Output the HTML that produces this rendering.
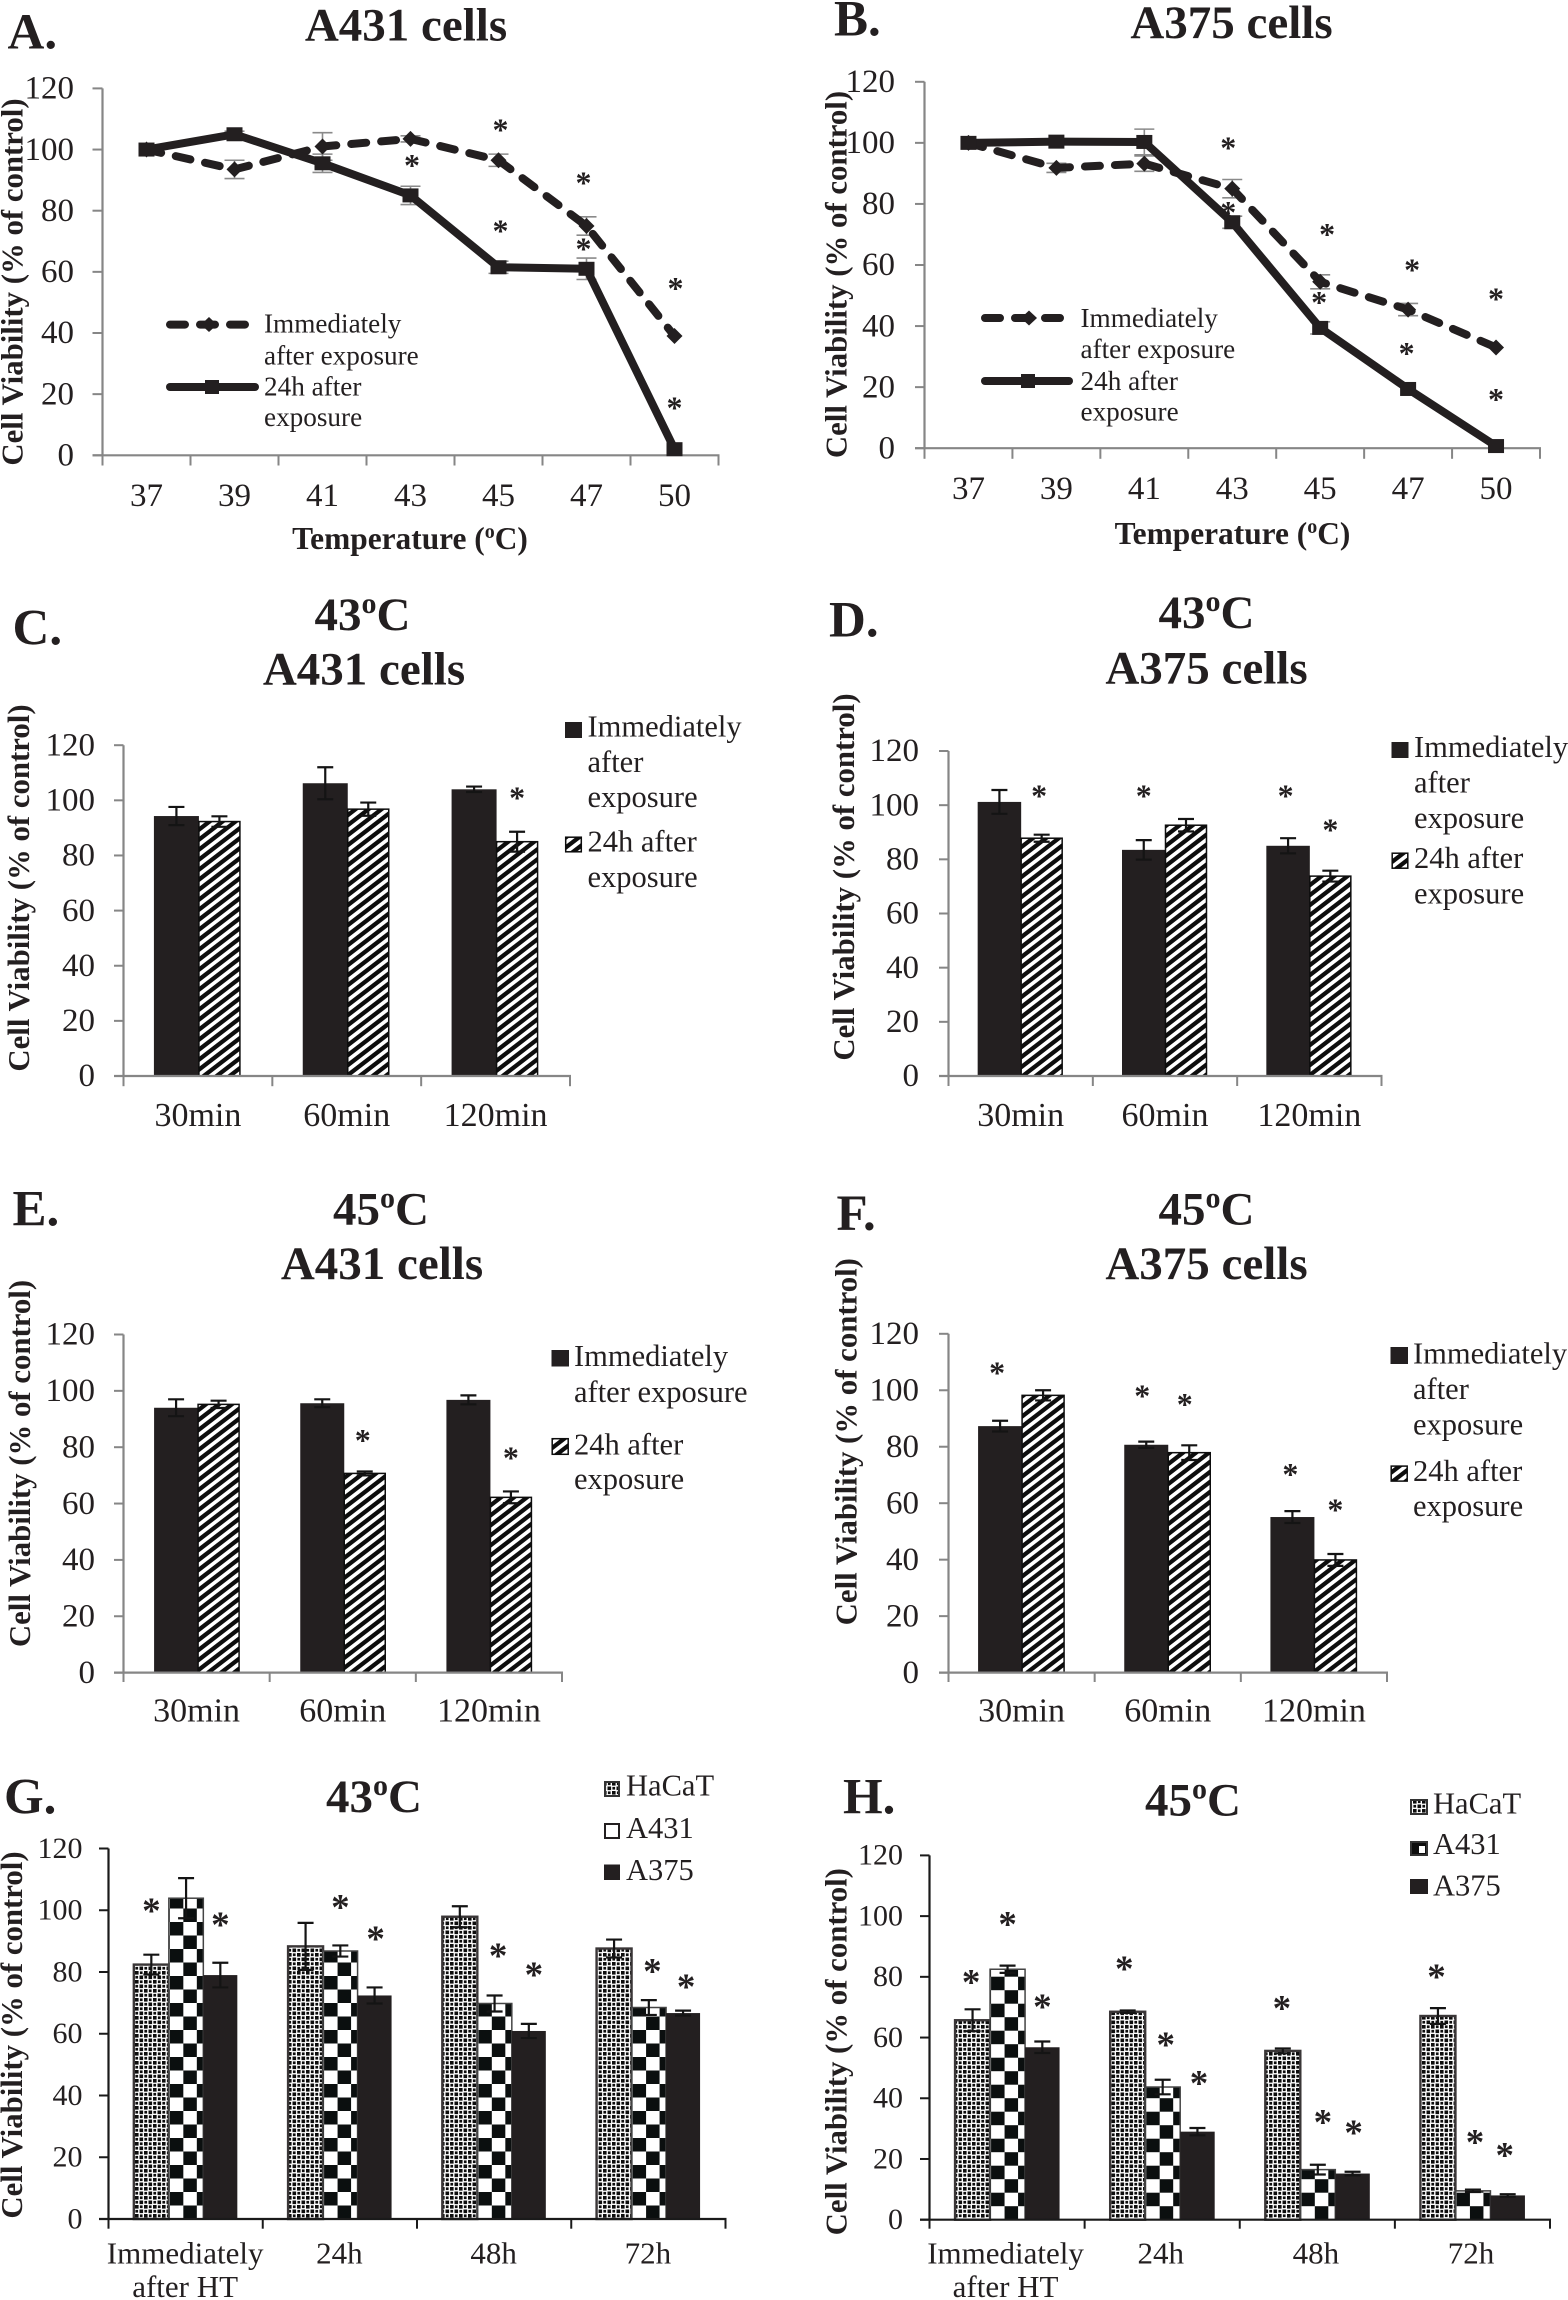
<!DOCTYPE html>
<html lang="en">
<head>
<meta charset="utf-8">
<title>Cell viability after hyperthermia</title>
<style>
html,body{margin:0;padding:0;background:#fff;}
svg{display:block;}
text{font-family:"Liberation Serif",serif;fill:#231f20;}
.title{font-size:47px;font-weight:bold;text-anchor:middle;}
.letter{font-size:51px;font-weight:bold;}
.lg{font-size:30.5px;}
.lg-small{font-size:27.2px;}
.xt{font-size:31.4px;font-weight:bold;text-anchor:middle;}
</style>
</head>
<body>
<svg id="figure" xmlns="http://www.w3.org/2000/svg" width="1568" height="2300" viewBox="0 0 1568 2300">
<defs>
  <pattern id="stripes" patternUnits="userSpaceOnUse" width="13" height="10">
    <rect width="13" height="10" fill="#fff"/>
    <polygon points="0,10 7,10 13,5.4 13,0" fill="#0d0d0d"/>
    <polygon points="0,0 0,5.4 7,0" fill="#0d0d0d"/>
  </pattern>
  <pattern id="dots" patternUnits="userSpaceOnUse" width="9" height="9">
    <rect width="9" height="9" fill="#fff"/>
    <rect x="0" y="0" width="3.6" height="3.6" fill="#0d0d0d"/>
    <rect x="4.5" y="4.5" width="3.6" height="3.6" fill="#0d0d0d"/>
    <rect x="4.9" y="0.4" width="2.7" height="2.7" fill="#0d0d0d"/>
    <rect x="0.4" y="4.9" width="2.7" height="2.7" fill="#0d0d0d"/>
  </pattern>
</defs>
<rect width="1568" height="2300" fill="#fff"/>

<!-- Panel headings -->
<text class="letter" x="7.5" y="48.4">A.</text>
<text class="title" x="406" y="40.7">A431 cells</text>
<text class="letter" x="834" y="35.6">B.</text>
<text class="title" x="1231.5" y="38.2">A375 cells</text>

<text class="letter" x="12.5" y="644.5">C.</text>
<text class="title" x="362.5" y="630">43<tspan font-size="30" dy="-17">o</tspan><tspan dy="17">C</tspan></text>
<text class="title" x="364" y="684.5">A431 cells</text>
<text class="letter" x="829" y="636.5">D.</text>
<text class="title" x="1206.5" y="628">43<tspan font-size="30" dy="-17">o</tspan><tspan dy="17">C</tspan></text>
<text class="title" x="1206.5" y="683.5">A375 cells</text>

<text class="letter" x="12.5" y="1225.4">E.</text>
<text class="title" x="381" y="1224.7">45<tspan font-size="30" dy="-17">o</tspan><tspan dy="17">C</tspan></text>
<text class="title" x="382" y="1279">A431 cells</text>
<text class="letter" x="836.5" y="1230">F.</text>
<text class="title" x="1206.5" y="1224.7">45<tspan font-size="30" dy="-17">o</tspan><tspan dy="17">C</tspan></text>
<text class="title" x="1206.5" y="1279">A375 cells</text>

<text class="letter" x="4" y="1813.6">G.</text>
<text class="title" x="374" y="1812">43<tspan font-size="30" dy="-17">o</tspan><tspan dy="17">C</tspan></text>
<text class="letter" x="843" y="1813.6">H.</text>
<text class="title" x="1193" y="1815.4">45<tspan font-size="30" dy="-17">o</tspan><tspan dy="17">C</tspan></text>

<!-- X axis titles for the line charts -->
<text class="xt" x="410" y="549">Temperature (<tspan font-size="20" dy="-11">o</tspan><tspan dy="11">C)</tspan></text>
<text class="xt" x="1232.5" y="544">Temperature (<tspan font-size="20" dy="-11">o</tspan><tspan dy="11">C)</tspan></text>

<g id="plots"></g>

<!-- Legends -->
<g>
  <g>
    <line x1="170" x2="249" y1="324.6" y2="324.6" stroke="#231f20" stroke-width="8" stroke-linecap="round" stroke-dasharray="15 15"/>
    <polygon points="209,317 217,324.6 209,332 201,324.6" fill="#231f20"/>
    <text class="lg-small" x="264" y="332.6">Immediately</text>
    <text class="lg-small" x="264" y="364.6">after exposure</text>
  </g>
  <g>
    <line x1="170" x2="255" y1="387" y2="387" stroke="#231f20" stroke-width="8" stroke-linecap="round"/>
    <rect x="205" y="380" width="14" height="14" fill="#231f20"/>
    <text class="lg-small" x="264" y="395.5">24h after</text>
    <text class="lg-small" x="264" y="426">exposure</text>
  </g>
</g>
<g>
  <g>
    <line x1="985" x2="1062" y1="318" y2="318" stroke="#231f20" stroke-width="8" stroke-linecap="round" stroke-dasharray="15 15"/>
    <polygon points="1029,310.5 1037,318 1029,325.5 1021,318" fill="#231f20"/>
    <text class="lg-small" x="1080.5" y="327">Immediately</text>
    <text class="lg-small" x="1080.5" y="358">after exposure</text>
  </g>
  <g>
    <line x1="985" x2="1069" y1="381" y2="381" stroke="#231f20" stroke-width="8" stroke-linecap="round"/>
    <rect x="1021" y="374" width="14" height="14" fill="#231f20"/>
    <text class="lg-small" x="1080.5" y="390">24h after</text>
    <text class="lg-small" x="1080.5" y="420.6">exposure</text>
  </g>
</g>
<g>
  <g>
    <rect x="565" y="722" width="17" height="16" fill="#231f20"/>
    <text class="lg" x="587.5" y="736.5">Immediately</text>
    <text class="lg" x="587.5" y="772">after</text>
    <text class="lg" x="587.5" y="807">exposure</text>
  </g>
  <g>
    <rect x="565.7" y="837.2" width="15.6" height="14.6" fill="url(#stripes)" stroke="#0d0d0d" stroke-width="1.5"/>
    <text class="lg" x="587.5" y="851.7">24h after</text>
    <text class="lg" x="587.5" y="887">exposure</text>
  </g>
</g>
<g>
  <g>
    <rect x="1391.5" y="742" width="17" height="16" fill="#231f20"/>
    <text class="lg" x="1414" y="757">Immediately</text>
    <text class="lg" x="1414" y="792.5">after</text>
    <text class="lg" x="1414" y="828">exposure</text>
  </g>
  <g>
    <rect x="1392.2" y="853.2" width="15.6" height="15" fill="url(#stripes)" stroke="#0d0d0d" stroke-width="1.5"/>
    <text class="lg" x="1414" y="868">24h after</text>
    <text class="lg" x="1414" y="903.5">exposure</text>
  </g>
</g>
<g>
  <g>
    <rect x="551.5" y="1350" width="17.5" height="16.5" fill="#231f20"/>
    <text class="lg" x="574" y="1366">Immediately</text>
    <text class="lg" x="574" y="1402">after exposure</text>
  </g>
  <g>
    <rect x="552.2" y="1438.7" width="16" height="15.6" fill="url(#stripes)" stroke="#0d0d0d" stroke-width="1.5"/>
    <text class="lg" x="574" y="1454.5">24h after</text>
    <text class="lg" x="574" y="1489">exposure</text>
  </g>
</g>
<g>
  <g>
    <rect x="1390.5" y="1347" width="17.5" height="17" fill="#231f20"/>
    <text class="lg" x="1413" y="1363.6">Immediately</text>
    <text class="lg" x="1413" y="1399">after</text>
    <text class="lg" x="1413" y="1434.5">exposure</text>
  </g>
  <g>
    <rect x="1391.2" y="1466.1" width="16" height="15" fill="url(#stripes)" stroke="#0d0d0d" stroke-width="1.5"/>
    <text class="lg" x="1413" y="1481">24h after</text>
    <text class="lg" x="1413" y="1516">exposure</text>
  </g>
</g>
<g>
  <g>
    <rect x="605" y="1782" width="14" height="14" fill="url(#dots)" stroke="#333" stroke-width="2"/>
    <text class="lg" x="626" y="1795.4">HaCaT</text>
  </g>
  <g>
    <rect x="605" y="1824" width="14" height="14" fill="#fff" stroke="#231f20" stroke-width="2"/>
    <text class="lg" x="626" y="1838">A431</text>
  </g>
  <g>
    <rect x="604" y="1864.5" width="16" height="15.5" fill="#231f20"/>
    <text class="lg" x="626" y="1880">A375</text>
  </g>
</g>
<g>
  <g>
    <rect x="1411" y="1800" width="16" height="14" fill="url(#dots)" stroke="#333" stroke-width="2"/>
    <text class="lg" x="1433" y="1813.6">HaCaT</text>
  </g>
  <g>
    <rect x="1411" y="1842" width="16" height="13" fill="#0d0d0d" stroke="#333" stroke-width="2"/>
    <rect x="1419" y="1846" width="6" height="7" fill="#fff"/>
    <text class="lg" x="1433" y="1854">A431</text>
  </g>
  <g>
    <rect x="1410" y="1879" width="18" height="15" fill="#231f20"/>
    <text class="lg" x="1433" y="1895.4">A375</text>
  </g>
</g>
</svg>

<script>
// ---- Shared axis labels ----
const yTickLabels = [0, 20, 40, 60, 80, 100, 120];
const temperatureCategories = ["37", "39", "41", "43", "45", "47", "50"];
const durationCategories = ["30min", "60min", "120min"];
const timeCategories = ["Immediately\nafter HT", "24h", "48h", "72h"];

// ---- Panel A ----
const aImmediate = [100, 93.5, 101, 103.5, 96.5, 75, 39];
const aImmediateErr = [0, 3, 4.5, 1, 2, 3, 0];
const a24h = [100, 105, 95.5, 85, 61.5, 61, 2];
const a24hErr = [0, 1, 3, 3, 2, 3.5, 0];
const aStarCats = [4, 3, 5, 4, 5, 6, 6];
const aStarValues = [107.9, 96.2, 90.6, 74.9, 69, 56, 16.9];

// ---- Panel B ----
const bImmediate = [100, 91.8, 93.2, 85, 54.5, 45.4, 33];
const bImmediateErr = [0, 1.5, 2.5, 3, 2.3, 2, 0];
const b24h = [100, 100.4, 100.3, 74, 39.4, 19.4, 0.7];
const b24hErr = [0, 0, 4.2, 2, 2, 0, 0];
const bStarCats = [3, 3, 4, 4, 5, 5, 6, 6];
const bStarValues = [99.8, 78.7, 71.5, 49.2, 59.9, 32.5, 50.4, 17.4];

// ---- Panel C ----
const cImmediate = [94.3, 106.2, 104];
const cImmediateErr = [3.3, 5.8, 1];
const c24h = [92.3, 96.8, 85];
const c24hErr = [1.9, 2.4, 3.6];
const cStarCats = [2];
const cStarSeries = [1];
const cStarValues = [102.5];

// ---- Panel D ----
const dImmediate = [101.2, 83.5, 85];
const dImmediateErr = [4.4, 3.6, 2.8];
const d24h = [87.8, 92.6, 73.8];
const d24hErr = [1.3, 2.3, 2];
const dStarCats = [0, 1, 2, 2];
const dStarSeries = [1, 0, 0, 1];
const dStarValues = [105, 105, 105, 92.5];

// ---- Panel E ----
const eImmediate = [94, 95.6, 96.8];
const eImmediateErr = [3, 1.4, 1.6];
const e24h = [95.2, 70.7, 62.2];
const e24hErr = [1.3, 0.7, 2.1];
const eStarCats = [1, 2];
const eStarSeries = [1, 1];
const eStarValues = [84, 77.7];

// ---- Panel F ----
const fImmediate = [87.3, 80.7, 55.1];
const fImmediateErr = [1.9, 1.1, 2.1];
const f24h = [98.2, 77.9, 39.9];
const f24hErr = [1.8, 2.6, 2.1];
const fStarCats = [0, 1, 1, 2, 2];
const fStarSeries = [0, 0, 1, 0, 1];
const fStarValues = [107.8, 99.5, 96.6, 71.7, 59.2];

// ---- Panel G ----
const gHacat = [82.4, 88.3, 97.9, 87.6];
const gHacatErr = [3.2, 7.6, 3.4, 2.9];
const gA431 = [103.9, 86.8, 69.8, 68.5];
const gA431Err = [6.5, 1.8, 2.6, 2.4];
const gA375 = [79, 72.4, 60.9, 66.7];
const gA375Err = [4, 2.6, 2.3, 0.8];
const gStarCats = [0, 0, 1, 1, 2, 2, 3, 3];
const gStarSeries = [0, 2, 1, 2, 1, 2, 1, 2];
const gStarValues = [101.5, 96.9, 102.7, 92.5, 86.9, 80.7, 81.9, 76.9];

// ---- Panel H ----
const hHacat = [65.7, 68.5, 55.6, 67.1];
const hHacatErr = [3.6, 0.4, 0.8, 2.6];
const hA431 = [82.5, 43.7, 16.5, 9.5];
const hA431Err = [1.2, 2.4, 1.6, 0.4];
const hA375 = [56.8, 29, 15.2, 8];
const hA375Err = [1.9, 1.2, 0.6, 0.4];
const hStarCats = [0, 0, 0, 1, 1, 1, 2, 2, 2, 3, 3, 3];
const hStarSeries = [0, 1, 2, 0, 1, 2, 0, 1, 2, 0, 1, 2];
const hStarValues = [79.9, 99, 71.9, 84.4, 59.3, 46.7, 71.3, 33.8, 30.4, 81.7, 27.2, 23];

const NS = "http://www.w3.org/2000/svg";
const plots = document.getElementById("plots");
const defsEl = document.querySelector("#figure defs");
const GRAY_AXIS = "#868686";
const INK = "#231f20";
let checkerCount = 0;

function make(parent, tag, attrs, text) {
  const el = document.createElementNS(NS, tag);
  for (const k in attrs) el.setAttribute(k, attrs[k]);
  if (text !== undefined) el.textContent = text;
  parent.appendChild(el);
  return el;
}

function scales(p, n) {
  return {
    x: function (i) { return p.x0 + (p.x1 - p.x0) * (i + 0.5) / n; },
    y: function (v) { return p.yZero - (p.yZero - p.yTop) * v / 120; }
  };
}

function drawAxes(g, p, categories) {
  const s = scales(p, categories.length);
  const col = p.axisColor;
  const yAxis = make(g, "line", {x1: p.x0, x2: p.x0, y1: p.yTop, y2: p.yZero, stroke: col, "stroke-width": 2.2});
  
  
  const xAxis = make(g, "line", {x1: p.tickLeft, x2: p.x1 + 1, y1: p.yZero, y2: p.yZero, stroke: col, "stroke-width": 2.2});
  
  
  yTickLabels.forEach(function (v) {
    const y = s.y(v);
    const tick = make(g, "line", {x1: p.tickLeft, x2: p.x0, y1: y, y2: y, stroke: col, "stroke-width": 2});
    
    
    const label = make(g, "text", {x: p.labelRight, y: y + p.tickSize * 0.31, "text-anchor": "end", "font-size": p.tickSize}, String(v));
    
    
  });
  for (let i = 0; i <= categories.length; i++) {
    const x = p.x0 + (p.x1 - p.x0) * i / categories.length;
    const tick = make(g, "line", {x1: x, x2: x, y1: p.yZero, y2: p.tickBottom, stroke: col, "stroke-width": 2});
    
    
  }
  categories.forEach(function (c, i) {
    c.split("\n").forEach(function (line, j) {
      const label = make(g, "text", {x: s.x(i) + (p.xLabelNudge || 0), y: p.xBase + j * 33.4, "text-anchor": "middle", "font-size": p.xLabelSize || p.tickSize}, line);
      
      
    });
  });
  const title = make(g, "text", {
    x: p.yTitleX, y: p.yTitleY, "text-anchor": "middle", "font-size": 30.8, "font-weight": "bold",
    transform: "rotate(-90 " + p.yTitleX + " " + p.yTitleY + ")"
  }, "Cell Viability (% of control)");
  
  
}

function drawStar(g, x, y, size) {
  const star = make(g, "text", {x: x, y: y + size * 0.47, "text-anchor": "middle", "font-size": size, "font-weight": "bold"}, "*");
  
  
}

function drawErrorBar(g, x, top, bottom, capHalf, color, width) {
  const stem = make(g, "line", {x1: x, x2: x, y1: top, y2: bottom, stroke: color, "stroke-width": width});
  
  
  const capTop = make(g, "line", {x1: x - capHalf, x2: x + capHalf, y1: top, y2: top, stroke: color, "stroke-width": width});
  
  
  const capBottom = make(g, "line", {x1: x - capHalf, x2: x + capHalf, y1: bottom, y2: bottom, stroke: color, "stroke-width": width});
  
  
}

function drawLineChart(p, categories, immediate, immediateErr, later, laterErr, starCats, starValues) {
  const g = make(plots, "g", {});
  
  
  drawAxes(g, p, categories);
  const s = scales(p, categories.length);
  [[immediate, immediateErr], [later, laterErr]].forEach(function (pair) {
    pair[0].forEach(function (v, i) {
      if (pair[1][i] > 0) drawErrorBar(g, s.x(i), s.y(v + pair[1][i]), s.y(v - pair[1][i]), 10, "#8a8a8a", 1.6);
    });
  });
  const pointsOf = function (vals) {
    return vals.map(function (v, i) { return s.x(i) + "," + s.y(v); }).join(" ");
  };
  const dashed = make(g, "polyline", {points: pointsOf(immediate), fill: "none", stroke: INK, "stroke-width": 8, "stroke-linecap": "round", "stroke-linejoin": "round", "stroke-dasharray": "15 15"});
  
  
  immediate.forEach(function (v, i) {
    const x = s.x(i), y = s.y(v);
    const d = make(g, "polygon", {points: (x) + "," + (y - 8) + " " + (x + 8) + "," + y + " " + x + "," + (y + 8) + " " + (x - 8) + "," + y, fill: INK});
    
    
  });
  const solid = make(g, "polyline", {points: pointsOf(later), fill: "none", stroke: INK, "stroke-width": 8, "stroke-linejoin": "round"});
  
  
  later.forEach(function (v, i) {
    const q = make(g, "rect", {x: s.x(i) - 8, y: s.y(v) - 7, width: 16, height: 14, fill: INK});
    
    
  });
  starCats.forEach(function (c, i) {
    drawStar(g, s.x(c) + (p.starNudge ? p.starNudge[i] : 0), s.y(starValues[i]), p.starSize);
  });
}

function checkerFill(x, bottom) {
  const id = "checker" + (checkerCount++);
  const pat = make(defsEl, "pattern", {id: id, patternUnits: "userSpaceOnUse", x: x, y: bottom, width: 27, height: 27});
  make(pat, "rect", {width: 27, height: 27, fill: "#fff"});
  make(pat, "rect", {x: 13.5, y: 13.5, width: 13.5, height: 13.5, fill: "#0b0f0f"});
  make(pat, "rect", {x: 0, y: 0, width: 13.5, height: 13.5, fill: "#0b0f0f"});
  return "url(#" + id + ")";
}

function drawBarChart(p, categories, seriesList, errList, starCats, starSeries, starValues) {
  const g = make(plots, "g", {});
  
  
  const s = scales(p, categories.length);
  const totalBefore = p.firstLeft;
  const barLeft = function (c, k) {
    let left = s.x(c) + (p.groupNudge || 0) - totalBefore;
    for (let j = 0; j < k; j++) left += p.widths[j];
    return left;
  };
  seriesList.forEach(function (vals, k) {
    vals.forEach(function (v, c) {
      const x = barLeft(c, k), w = p.widths[k], top = s.y(v), kind = p.kinds[k];
      const attrs = {x: x, y: top, width: w, height: p.yZero - top};
      if (kind === "solid") { attrs.fill = INK; }
      else if (kind === "stripes") { attrs.fill = "url(#stripes)"; attrs.stroke = "#0d0d0d"; attrs["stroke-width"] = 1.5; }
      else if (kind === "dots") { attrs.fill = "url(#dots)"; attrs.stroke = "#3a3637"; attrs["stroke-width"] = 2.4; }
      else { attrs.fill = checkerFill(x + 1, p.yZero); attrs.stroke = "#444"; attrs["stroke-width"] = 1.5; }
      const bar = make(g, "rect", attrs);
      
      
    });
  });
  seriesList.forEach(function (vals, k) {
    vals.forEach(function (v, c) {
      const x = barLeft(c, k) + p.widths[k] / 2, e = errList[k][c];
      drawErrorBar(g, x, s.y(v + e), s.y(v - e), 8, "#141414", 2.2);
    });
  });
  drawAxes(g, p, categories);
  starCats.forEach(function (c, i) {
    const k = starSeries[i];
    const x = barLeft(c, k) + p.widths[k] / 2 + (p.starNudge ? p.starNudge[i] : 0);
    drawStar(g, x, s.y(starValues[i]), p.starSize);
  });
}

const twoKinds = ["solid", "stripes"];
const twoNames = ["immediately", "24h"];
const threeKinds = ["dots", "checker", "solid"];
const threeNames = ["hacat", "a431", "a375"];

drawLineChart({name: "panel-a-line-chart", x0: 102.5, x1: 718.5, yZero: 455.3, yTop: 88.4, tickLeft: 92.5, tickBottom: 465.5, labelRight: 74, xBase: 506, tickSize: 33, yTitleX: 22.5, yTitleY: 282, axisColor: GRAY_AXIS, starSize: 32, starNudge: [2, 1.5, -3, 2, -3, 1, 0]},
  temperatureCategories, aImmediate, aImmediateErr, a24h, a24hErr, aStarCats, aStarValues);

drawLineChart({name: "panel-b-line-chart", x0: 924.5, x1: 1540, yZero: 448.2, yTop: 81.8, tickLeft: 915, tickBottom: 458.8, labelRight: 895, xBase: 499, tickSize: 33, yTitleX: 846.5, yTitleY: 274.5, axisColor: GRAY_AXIS, starSize: 32, starNudge: [-4, -4, 7, -1, 4, -1.5, 0, 0]},
  temperatureCategories, bImmediate, bImmediateErr, b24h, b24hErr, bStarCats, bStarValues);

drawBarChart({name: "panel-c-bar-chart", x0: 123.5, x1: 570, yZero: 1076, yTop: 745.2, tickLeft: 114, tickBottom: 1086.2, labelRight: 95, xBase: 1126, tickSize: 33, xLabelSize: 34, yTitleX: 29, yTitleY: 888, axisColor: GRAY_AXIS, starSize: 32, kinds: twoKinds, seriesNames: twoNames, widths: [45, 41], firstLeft: 45, groupNudge: 1},
  durationCategories, [cImmediate, c24h], [cImmediateErr, c24hErr], cStarCats, cStarSeries, cStarValues);

drawBarChart({name: "panel-d-bar-chart", x0: 948.5, x1: 1381.5, yZero: 1076, yTop: 751, tickLeft: 939, tickBottom: 1086, labelRight: 919, xBase: 1126, tickSize: 33, xLabelSize: 34, yTitleX: 854, yTitleY: 877, axisColor: GRAY_AXIS, starSize: 32, kinds: twoKinds, seriesNames: twoNames, widths: [43.5, 41], firstLeft: 43.5, groupNudge: 0.5, starNudge: [-2.5, 0, -2.5, 0]},
  durationCategories, [dImmediate, d24h], [dImmediateErr, d24hErr], dStarCats, dStarSeries, dStarValues);

drawBarChart({name: "panel-e-bar-chart", x0: 123.5, x1: 562, yZero: 1672.6, yTop: 1334.5, tickLeft: 114, tickBottom: 1682, labelRight: 95, xBase: 1721.6, tickSize: 33, xLabelSize: 34, yTitleX: 30, yTitleY: 1463.5, axisColor: GRAY_AXIS, starSize: 32, kinds: twoKinds, seriesNames: twoNames, widths: [44, 41], firstLeft: 44, groupNudge: 1.5, starNudge: [-2, 0]},
  durationCategories, [eImmediate, e24h], [eImmediateErr, e24hErr], eStarCats, eStarSeries, eStarValues);

drawBarChart({name: "panel-f-bar-chart", x0: 948.5, x1: 1387, yZero: 1672.6, yTop: 1333.8, tickLeft: 939, tickBottom: 1682, labelRight: 919, xBase: 1721.6, tickSize: 33, xLabelSize: 34, yTitleX: 856.5, yTitleY: 1441.7, axisColor: GRAY_AXIS, starSize: 32, kinds: twoKinds, seriesNames: twoNames, widths: [44, 42], firstLeft: 44, groupNudge: 0.5, starNudge: [-3, -4, -4.5, -2, 0]},
  durationCategories, [fImmediate, f24h], [fImmediateErr, f24hErr], fStarCats, fStarSeries, fStarValues);

drawBarChart({name: "panel-g-bar-chart", x0: 108.5, x1: 725.5, yZero: 2219, yTop: 1848.5, tickLeft: 99, tickBottom: 2228.7, labelRight: 82.5, xBase: 2263.6, xLabelNudge: -0.5, tickSize: 30, xLabelSize: 31, yTitleX: 22, yTitleY: 2035, axisColor: "#1a1a1a", starSize: 37, kinds: threeKinds, seriesNames: threeNames, widths: [35, 34.5, 34], firstLeft: 51.8, starNudge: [0, 0, 0, 1, 3.5, 5, 3.5, 3]},
  timeCategories, [gHacat, gA431, gA375], [gHacatErr, gA431Err, gA375Err], gStarCats, gStarSeries, gStarValues);

drawBarChart({name: "panel-h-bar-chart", x0: 929.5, x1: 1550, yZero: 2219.7, yTop: 1855.4, tickLeft: 920, tickBottom: 2228.7, labelRight: 903, xBase: 2263.6, xLabelNudge: -1.5, tickSize: 30, xLabelSize: 31, yTitleX: 846.5, yTitleY: 2051.7, axisColor: "#1a1a1a", starSize: 37, kinds: threeKinds, seriesNames: threeNames, widths: [35, 35, 34.5], firstLeft: 52, starNudge: [-1.5, 0, 0, -3.5, 3, 1.5, -1, 5, 1, -1.5, 2, -3]},
  timeCategories, [hHacat, hA431, hA375], [hHacatErr, hA431Err, hA375Err], hStarCats, hStarSeries, hStarValues);
</script>
</body>
</html>
